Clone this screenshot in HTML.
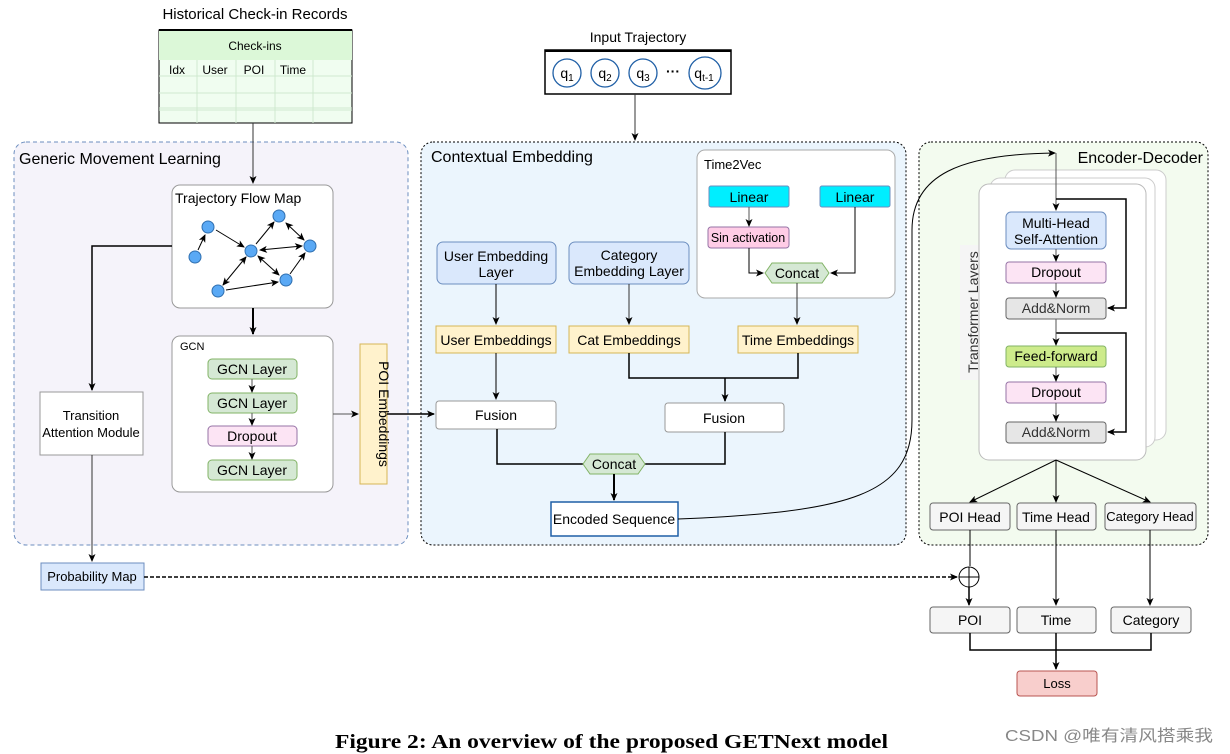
<!DOCTYPE html>
<html><head><meta charset="utf-8"><style>
html,body{margin:0;padding:0;background:#fff;}
svg{display:block;font-family:"Liberation Sans",sans-serif;}
</style></head><body>
<svg width="1230" height="754" viewBox="0 0 1230 754" xmlns="http://www.w3.org/2000/svg">
<defs>
<marker id="a" markerWidth="8" markerHeight="8" refX="7" refY="4" orient="auto" markerUnits="userSpaceOnUse"><path d="M0,0.5 L8,4 L0,7.5 L2,4 Z" fill="#000"/></marker>
<marker id="b" markerWidth="8" markerHeight="8" refX="1" refY="4" orient="auto" markerUnits="userSpaceOnUse"><path d="M8,0.5 L0,4 L8,7.5 L6,4 Z" fill="#000"/></marker>
</defs>
<!-- containers -->
<rect x="14" y="142" width="394" height="403" rx="12" fill="#f5f3fa" stroke="#6c8ebf" stroke-dasharray="4,3"/>
<text x="19" y="164" font-size="16">Generic Movement Learning</text>
<rect x="421" y="142" width="485" height="403" rx="12" fill="#ebf5fd" stroke="#000" stroke-dasharray="2,2"/>
<text x="431" y="162" font-size="16">Contextual Embedding</text>
<rect x="919" y="142" width="289" height="403" rx="12" fill="#f3fbef" stroke="#000" stroke-dasharray="2,2"/>
<text x="1203" y="163" font-size="16" text-anchor="end">Encoder-Decoder</text>

<!-- table -->
<text x="255" y="19" font-size="15" text-anchor="middle">Historical Check-in Records</text>
<rect x="159" y="30" width="193" height="93" fill="#f0fdf0" stroke="#000"/>
<rect x="159" y="30" width="193" height="30" fill="#dcf8d8"/>
<line x1="159" y1="30" x2="352" y2="30" stroke="#000" stroke-width="2"/>
<text x="255" y="50" font-size="12" text-anchor="middle">Check-ins</text>
<g stroke="#cfe9cf"><line x1="197" y1="60" x2="197" y2="123"/><line x1="236" y1="60" x2="236" y2="123"/><line x1="275" y1="60" x2="275" y2="123"/><line x1="313" y1="60" x2="313" y2="123"/><line x1="159" y1="76" x2="352" y2="76"/><line x1="159" y1="93" x2="352" y2="93"/><line x1="159" y1="108" x2="352" y2="108"/><line x1="159" y1="110" x2="352" y2="110"/></g>
<g font-size="12" text-anchor="middle"><text x="177" y="74">Idx</text><text x="215" y="74">User</text><text x="254" y="74">POI</text><text x="293" y="74">Time</text></g>
<line x1="253" y1="123" x2="253" y2="183" stroke="#333" marker-end="url(#a)"/>

<!-- TFM -->
<rect x="172" y="185" width="161" height="123" rx="8" fill="#fff" stroke="#999"/>
<text x="175" y="203" font-size="14">Trajectory Flow Map</text>
<g stroke="#000" fill="none" marker-end="url(#a)">
<line x1="198" y1="250" x2="205" y2="235"/>
<line x1="216" y1="230" x2="244" y2="247"/>
<line x1="256" y1="244" x2="274" y2="222"/>
<line x1="286" y1="223" x2="304" y2="240" marker-start="url(#b)"/>
<line x1="302" y1="246" x2="260" y2="250" marker-start="url(#b)"/>
<line x1="290" y1="274" x2="305" y2="253"/>
<line x1="226" y1="290" x2="278" y2="282"/>
<line x1="246" y1="257" x2="223" y2="285" marker-start="url(#b)"/>
<line x1="258" y1="256" x2="279" y2="275" marker-start="url(#b)"/>
</g>
<g fill="#5aa9f5" stroke="#2f6fb0"><circle cx="208" cy="227" r="6"/><circle cx="195" cy="257" r="6"/><circle cx="251" cy="251" r="6"/><circle cx="279" cy="216" r="6"/><circle cx="310" cy="246" r="6"/><circle cx="286" cy="280" r="6"/><circle cx="218" cy="291" r="6"/></g>
<line x1="253" y1="308" x2="253" y2="334" stroke="#000" stroke-width="2" marker-end="url(#a)"/>
<polyline points="172,246 92,246 92,390" fill="none" stroke="#000" stroke-width="1.5" marker-end="url(#a)"/>

<!-- GCN -->
<rect x="172" y="336" width="161" height="156" rx="8" fill="#fff" stroke="#999"/>
<text x="180" y="350" font-size="11">GCN</text>
<g font-size="14" text-anchor="middle">
<rect x="208" y="359" width="89" height="20" rx="4" fill="#d5e8d4" stroke="#82b366"/><text x="252" y="374">GCN Layer</text>
<rect x="208" y="393" width="89" height="20" rx="4" fill="#d5e8d4" stroke="#82b366"/><text x="252" y="408">GCN Layer</text>
<rect x="208" y="426" width="89" height="20" rx="4" fill="#fce4f4" stroke="#9673a6"/><text x="252" y="441">Dropout</text>
<rect x="208" y="460" width="89" height="20" rx="4" fill="#d5e8d4" stroke="#82b366"/><text x="252" y="475">GCN Layer</text>
</g>
<g stroke="#555" marker-end="url(#a)"><line x1="252" y1="379" x2="252" y2="392"/><line x1="252" y1="413" x2="252" y2="425"/><line x1="252" y1="446" x2="252" y2="459"/></g>
<line x1="333" y1="414" x2="358" y2="414" stroke="#555" marker-end="url(#a)"/>
<rect x="360" y="344" width="27" height="140" fill="#fff2cc" stroke="#d6b656"/>
<text transform="translate(379,414) rotate(90)" font-size="14" text-anchor="middle">POI Embeddings</text>
<line x1="387" y1="414" x2="434" y2="414" stroke="#000" stroke-width="1.5" marker-end="url(#a)"/>

<!-- TAM / Prob -->
<rect x="40" y="392" width="103" height="63" fill="#fff" stroke="#999"/>
<text x="91" y="420" font-size="13" text-anchor="middle">Transition</text>
<text x="91" y="437" font-size="13" text-anchor="middle">Attention Module</text>
<line x1="92" y1="455" x2="92" y2="561" stroke="#333" marker-end="url(#a)"/>
<rect x="41" y="563" width="103" height="27" fill="#dae8fc" stroke="#6c8ebf"/>
<text x="92" y="581" font-size="13" text-anchor="middle">Probability Map</text>
<line x1="144" y1="577" x2="957" y2="577" stroke="#000" stroke-width="1.5" stroke-dasharray="4,2" marker-end="url(#a)"/>

<!-- Input trajectory -->
<text x="638" y="42" font-size="14" text-anchor="middle">Input Trajectory</text>
<rect x="545" y="50" width="186" height="44" fill="#fff" stroke="#000" stroke-width="1.5"/>
<line x1="545" y1="51" x2="731" y2="51" stroke="#000" stroke-width="2"/>
<g fill="#fff" stroke="#1f5fa6" stroke-width="1.3"><circle cx="567" cy="73" r="14"/><circle cx="605" cy="73" r="14"/><circle cx="643" cy="73" r="14"/><circle cx="705" cy="73" r="16"/></g>
<g font-size="14" text-anchor="middle"><text x="567" y="78">q<tspan font-size="10" dy="3">1</tspan></text><text x="605" y="78">q<tspan font-size="10" dy="3">2</tspan></text><text x="643" y="78">q<tspan font-size="10" dy="3">3</tspan></text><text x="673" y="76" font-weight="bold">···</text><text x="704" y="78">q<tspan font-size="10" dy="3">t-1</tspan></text></g>
<line x1="635" y1="94" x2="635" y2="140" stroke="#333" marker-end="url(#a)"/>

<!-- Time2Vec -->
<rect x="697" y="150" width="198" height="148" rx="8" fill="#fff" stroke="#aaa"/>
<text x="704" y="169" font-size="13">Time2Vec</text>
<rect x="709" y="186" width="80" height="21" rx="2" fill="#00eeff" stroke="#6c8ebf"/><text x="749" y="202" font-size="14" text-anchor="middle">Linear</text>
<rect x="820" y="186" width="70" height="21" rx="2" fill="#00eeff" stroke="#6c8ebf"/><text x="855" y="202" font-size="14" text-anchor="middle">Linear</text>
<rect x="708" y="227" width="81" height="21" rx="3" fill="#ffcce6" stroke="#9673a6"/><text x="748" y="242" font-size="12.5" text-anchor="middle">Sin activation</text>
<line x1="749" y1="207" x2="749" y2="226" stroke="#555" marker-end="url(#a)"/>
<polyline points="749,248 749,273 763,273" fill="none" stroke="#000" marker-end="url(#a)"/>
<polyline points="855,207 855,273 831,273" fill="none" stroke="#000" marker-end="url(#a)"/>
<polygon points="765,273 772,263 822,263 829,273 822,283 772,283" fill="#d5e8d4" stroke="#82b366"/>
<text x="797" y="278" font-size="14" text-anchor="middle">Concat</text>
<line x1="797" y1="283" x2="797" y2="324" stroke="#333" marker-end="url(#a)"/>

<!-- embeddings -->
<rect x="437" y="242" width="119" height="42" rx="6" fill="#dae8fc" stroke="#6c8ebf"/>
<text x="496" y="261" font-size="14" text-anchor="middle">User Embedding</text><text x="496" y="277" font-size="14" text-anchor="middle">Layer</text>
<rect x="569" y="242" width="120" height="42" rx="6" fill="#dae8fc" stroke="#6c8ebf"/>
<text x="629" y="260" font-size="14" text-anchor="middle">Category</text><text x="629" y="276" font-size="14" text-anchor="middle">Embedding Layer</text>
<line x1="496" y1="284" x2="496" y2="324" stroke="#000" marker-end="url(#a)"/>
<line x1="629" y1="284" x2="629" y2="324" stroke="#333" marker-end="url(#a)"/>
<g font-size="14" text-anchor="middle">
<rect x="436" y="326" width="120" height="27" fill="#fff2cc" stroke="#d6b656"/><text x="496" y="345">User Embeddings</text>
<rect x="569" y="326" width="120" height="27" fill="#fff2cc" stroke="#d6b656"/><text x="629" y="345">Cat Embeddings</text>
<rect x="738" y="326" width="120" height="27" fill="#fff2cc" stroke="#d6b656"/><text x="798" y="345">Time Embeddings</text>
</g>
<line x1="496" y1="353" x2="496" y2="399" stroke="#000" marker-end="url(#a)"/>
<polyline points="629,353 629,378 798,378 798,353" fill="none" stroke="#000" stroke-width="1.5"/>
<line x1="725" y1="378" x2="725" y2="401" stroke="#000" stroke-width="1.5" marker-end="url(#a)"/>
<rect x="436" y="401" width="120" height="28" rx="3" fill="#fff" stroke="#999"/><text x="496" y="420" font-size="14" text-anchor="middle">Fusion</text>
<rect x="665" y="403" width="119" height="29" rx="3" fill="#fff" stroke="#999"/><text x="724" y="423" font-size="14" text-anchor="middle">Fusion</text>
<polyline points="497,429 497,464 583,464" fill="none" stroke="#000" stroke-width="1.5"/>
<polyline points="725,432 725,464 645,464" fill="none" stroke="#000" stroke-width="1.5"/>
<polygon points="583,464 590,454 638,454 645,464 638,474 590,474" fill="#d5e8d4" stroke="#82b366"/>
<text x="614" y="469" font-size="14" text-anchor="middle">Concat</text>
<line x1="614" y1="474" x2="614" y2="500" stroke="#000" stroke-width="2" marker-end="url(#a)"/>
<rect x="551" y="502" width="127" height="34" fill="#fff" stroke="#1f5fa6" stroke-width="1.5"/>
<text x="614" y="524" font-size="14" text-anchor="middle">Encoded Sequence</text>
<path d="M678,519 C850,512 912,495 912,420 L912,230 C912,175 960,154 1055,153" fill="none" stroke="#000" marker-end="url(#a)"/>

<!-- transformer -->
<rect x="1005" y="170" width="161" height="270" rx="10" fill="#fff" stroke="#ccc"/>
<rect x="990" y="178" width="165" height="269" rx="10" fill="#fff" stroke="#ccc"/>
<rect x="960" y="245" width="20" height="135" fill="#f5f5f5"/>
<text transform="translate(978,312) rotate(-90)" font-size="14" text-anchor="middle" fill="#333">Transformer Layers</text>
<rect x="979" y="184" width="167" height="276" rx="10" fill="#fff" stroke="#bbb"/>
<line x1="1056" y1="153" x2="1056" y2="210" stroke="#555" marker-end="url(#a)"/>
<polyline points="1056,199 1126,199 1126,308 1108,308" fill="none" stroke="#000" stroke-width="1.5" marker-end="url(#a)"/>
<polyline points="1056,333 1126,333 1126,432 1108,432" fill="none" stroke="#000" stroke-width="1.5" marker-end="url(#a)"/>
<g font-size="14" text-anchor="middle">
<rect x="1006" y="212" width="100" height="37" rx="5" fill="#dae8fc" stroke="#6c8ebf"/><text x="1056" y="228">Multi-Head</text><text x="1056" y="244">Self-Attention</text>
<rect x="1006" y="262" width="100" height="21" rx="3" fill="#fce4f4" stroke="#9673a6"/><text x="1056" y="277">Dropout</text>
<rect x="1006" y="298" width="100" height="21" rx="3" fill="#e6e6e6" stroke="#666"/><text x="1056" y="313" fill="#333">Add&amp;Norm</text>
<rect x="1006" y="346" width="100" height="21" rx="3" fill="#cdeb8b" stroke="#82b366"/><text x="1056" y="361">Feed-forward</text>
<rect x="1006" y="382" width="100" height="21" rx="3" fill="#fce4f4" stroke="#9673a6"/><text x="1056" y="397">Dropout</text>
<rect x="1006" y="422" width="100" height="21" rx="3" fill="#e6e6e6" stroke="#666"/><text x="1056" y="437" fill="#333">Add&amp;Norm</text>
</g>
<g stroke="#555" marker-end="url(#a)"><line x1="1056" y1="249" x2="1056" y2="261"/><line x1="1056" y1="283" x2="1056" y2="297"/><line x1="1056" y1="319" x2="1056" y2="345"/><line x1="1056" y1="367" x2="1056" y2="381"/><line x1="1056" y1="403" x2="1056" y2="421"/></g>

<!-- heads -->
<g stroke="#000" marker-end="url(#a)"><line x1="1056" y1="460" x2="970" y2="502"/><line x1="1056" y1="460" x2="1056" y2="502"/><line x1="1056" y1="460" x2="1150" y2="502"/></g>
<g font-size="14" text-anchor="middle">
<rect x="930" y="503" width="80" height="27" rx="3" fill="#f5f5f5" stroke="#666"/><text x="970" y="522">POI Head</text>
<rect x="1017" y="503" width="79" height="27" rx="3" fill="#f5f5f5" stroke="#666"/><text x="1056" y="522">Time Head</text>
<rect x="1105" y="503" width="91" height="27" rx="3" fill="#f5f5f5" stroke="#666"/><text x="1150" y="521" font-size="13">Category Head</text>
</g>
<line x1="970" y1="530" x2="970" y2="566" stroke="#000"/>
<circle cx="969" cy="577" r="10" fill="#fff" stroke="#000"/>
<line x1="959" y1="577" x2="979" y2="577" stroke="#000"/><line x1="969" y1="567" x2="969" y2="587" stroke="#000"/>
<line x1="969" y1="587" x2="969" y2="605" stroke="#000" stroke-width="1.5" marker-end="url(#a)"/>
<line x1="1056" y1="530" x2="1056" y2="605" stroke="#000" marker-end="url(#a)"/>
<line x1="1150" y1="530" x2="1150" y2="605" stroke="#000" marker-end="url(#a)"/>
<g font-size="14" text-anchor="middle">
<rect x="930" y="607" width="80" height="26" rx="3" fill="#f5f5f5" stroke="#666"/><text x="970" y="625">POI</text>
<rect x="1017" y="607" width="79" height="26" rx="3" fill="#f5f5f5" stroke="#666"/><text x="1056" y="625">Time</text>
<rect x="1111" y="607" width="80" height="26" rx="3" fill="#f5f5f5" stroke="#666"/><text x="1151" y="625">Category</text>
</g>
<polyline points="970,633 970,650 1151,650 1151,633" fill="none" stroke="#000" stroke-width="1.5"/>
<line x1="1056" y1="633" x2="1056" y2="669" stroke="#000" stroke-width="1.5" marker-end="url(#a)"/>
<rect x="1017" y="671" width="80" height="25" rx="3" fill="#f8cecc" stroke="#b85450"/>
<text x="1057" y="688" font-size="13" text-anchor="middle">Loss</text>

<text x="335" y="748" font-size="20" font-weight="bold" font-family="Liberation Serif,serif" textLength="553" lengthAdjust="spacingAndGlyphs">Figure 2: An overview of the proposed GETNext model</text>
<text x="1005" y="741" font-size="16" fill="#888" textLength="208" lengthAdjust="spacingAndGlyphs" font-family="Liberation Sans,'Noto Sans CJK SC',sans-serif">CSDN @唯有清风搭乘我</text>
</svg>
</body></html>
